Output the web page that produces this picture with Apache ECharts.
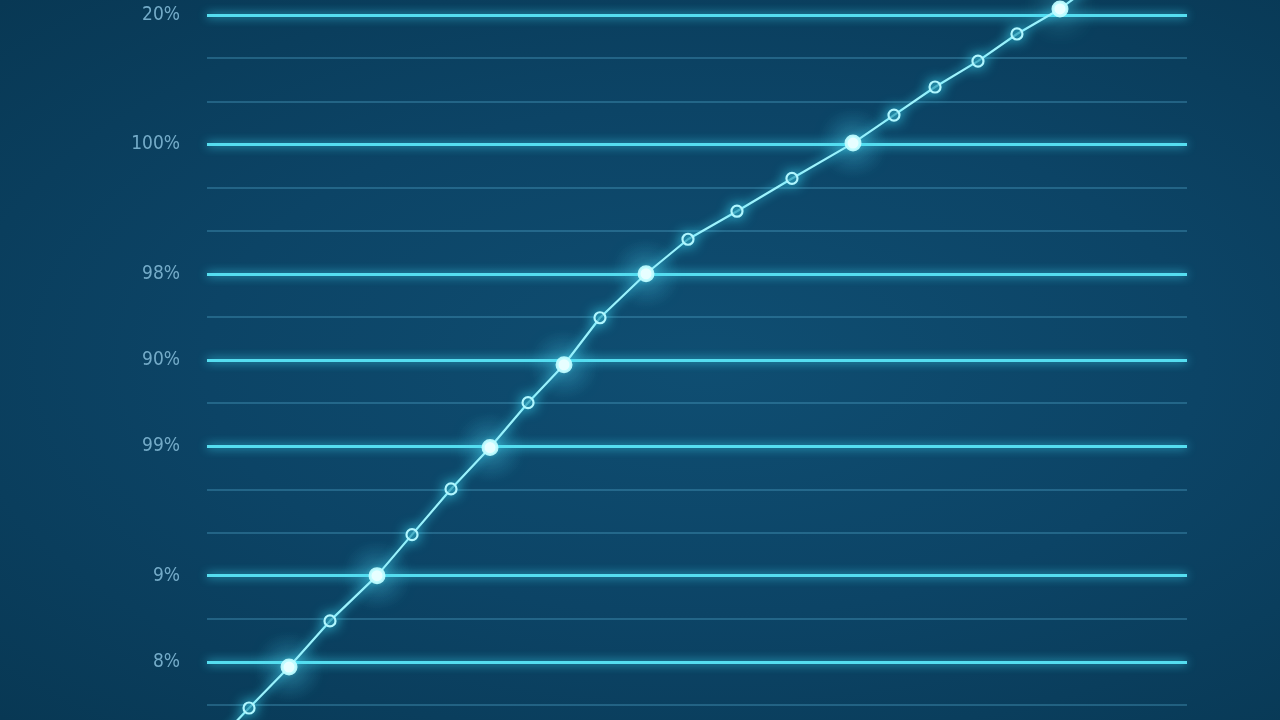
<!DOCTYPE html>
<html>
<head>
<meta charset="utf-8">
<script src="https://cdn.jsdelivr.net/npm/echarts@6/dist/echarts.min.js"></script>
<style>
html,body{margin:0;padding:0;width:1280px;height:720px;overflow:hidden;}
#c{width:1280px;height:720px;background:radial-gradient(ellipse at 55% 50%, #0f4e72 0%, #0c4466 50%, #083854 100%);}
</style>
</head>
<body>
<div id="c"></div>
<script>
// y values are in gridline-step units; tick labels are placed on the bright gridlines
const tickValues = [1, 3, 6, 8, 10, 13, 16];
const tickLabels = ['8%', '9%', '99%', '90%', '98%', '100%', '20%'];

const xValues = [0.6, 4.29, 8.37, 12.55, 17.35, 20.92, 24.9, 28.88, 32.76, 36.43, 40.1, 44.8, 49.08, 54.08, 59.69, 65.92, 70.1, 74.29, 78.67, 82.65, 87.04, 91.2];
const yValues = [-0.95, -0.07, 0.88, 1.95, 3.0, 3.95, 5.01, 5.97, 7.01, 7.89, 8.98, 10.0, 10.8, 11.45, 12.21, 13.03, 13.68, 14.33, 14.93, 15.56, 16.14, 16.85];
const peakFlags = [0, 0, 1, 0, 1, 0, 0, 1, 0, 1, 0, 1, 0, 0, 0, 1, 0, 0, 0, 0, 1, 0];

const chart = echarts.init(document.getElementById('c'), null, {renderer: 'canvas'});

const normalItem = {
  color: 'rgba(25,110,140,0.55)', borderColor: '#b0f6fe', borderWidth: 2.2,
  shadowBlur: 14, shadowColor: 'rgba(60,225,250,1)'
};
const peakItem = {
  color: '#f4ffff', borderColor: 'rgba(190,252,255,0.95)', borderWidth: 3,
  shadowBlur: 30, shadowColor: 'rgba(90,235,255,1)'
};

const lineData = xValues.map((x, i) => ({
  value: [x, yValues[i]],
  symbol: 'circle',
  symbolSize: peakFlags[i] ? 14 : 11,
  itemStyle: peakFlags[i] ? peakItem : normalItem
}));

const haloData = xValues.map((x, i) => [x, yValues[i]]).filter((p, i) => peakFlags[i]);

const labelMap = {};
tickValues.forEach((v, i) => { labelMap[v] = tickLabels[i]; });

chart.setOption({
  backgroundColor: 'transparent',
  animation: false,
  grid: {left: 207, right: 93, top: 15, bottom: 15},
  xAxis: {
    type: 'value', min: 0, max: 100, show: false
  },
  yAxis: {
    type: 'value', min: 0, max: 16, interval: 1,
    axisLine: {show: false}, axisTick: {show: false},
    axisLabel: {
      margin: 27,
      color: '#74abc8',
      fontSize: 19,
      fontFamily: 'Liberation Sans Narrow, DejaVu Sans Condensed, sans-serif',
      formatter: v => labelMap[v] || ''
    },
    splitLine: {
      lineStyle: {color: 'rgba(85,170,205,0.45)', width: 1.6}
    }
  },
  series: [{
    type: 'scatter',
    data: haloData,
    silent: true,
    z: 3,
    symbolSize: 70,
    itemStyle: {
      color: {
        type: 'radial', x: 0.5, y: 0.5, r: 0.5,
        colorStops: [
          {offset: 0, color: 'rgba(120,235,255,0.45)'},
          {offset: 0.35, color: 'rgba(70,200,235,0.18)'},
          {offset: 1, color: 'rgba(40,160,210,0)'}
        ]
      }
    }
  }, {
    type: 'line',
    data: lineData,
    clip: false,
    z: 5,
    lineStyle: {color: '#9ef3fd', width: 2.2, shadowBlur: 10, shadowColor: 'rgba(60,225,250,1)'},
    markLine: {
      silent: true,
      symbol: 'none',
      label: {show: false},
      lineStyle: {type: 'solid', color: '#55ddf0', width: 2.8, shadowBlur: 10, shadowColor: 'rgba(60,215,240,1)'},
      data: tickValues.map(v => ({yAxis: v}))
    }
  }]
});
</script>
</body>
</html>
